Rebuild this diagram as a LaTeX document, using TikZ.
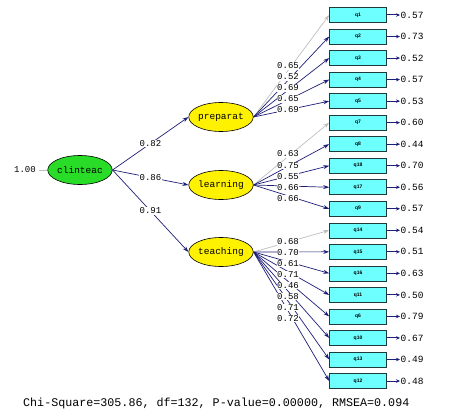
\documentclass[tikz,border=0pt]{standalone}
\usepackage{fontspec}
\setmonofont{Liberation Mono}
\setsansfont{Liberation Sans}
\usetikzlibrary{arrows.meta,shapes.geometric}
\definecolor{navyline}{RGB}{30,30,120}
\definecolor{grayline}{RGB}{190,190,190}
\definecolor{boxfill}{RGB}{110,255,255}
\definecolor{boxdraw}{RGB}{30,60,60}
\definecolor{latgreen}{RGB}{40,220,40}
\tikzset{
  obs/.style={draw=boxdraw, fill=boxfill, minimum width=57pt, minimum height=15pt, inner sep=0pt, line width=0.6pt, font=\sffamily\bfseries\fontsize{5}{5}\selectfont},
  lat/.style={ellipse, draw=black, fill=yellow, minimum width=60pt, minimum height=29pt, inner sep=0pt, line width=0.6pt, font=\ttfamily\fontsize{9.5}{10}\selectfont},
  load/.style={draw=navyline, line width=0.7pt, -{Stealth[length=6pt,width=4pt]}},
  fixed/.style={draw=grayline, line width=0.7pt, -{Stealth[length=6pt,width=4pt]}},
  err/.style={draw=navyline, line width=1pt, -{Stealth[length=4pt,width=3.5pt]}},
  coef/.style={fill=white, inner sep=0.5pt, font=\ttfamily\fontsize{9}{9}\selectfont},
  errlab/.style={anchor=west, inner sep=0.5pt, font=\ttfamily\fontsize{9.5}{10}\selectfont},
}
\begin{document}
\begin{tikzpicture}[x=1pt,y=-1pt]
\path[use as bounding box] (0,0) rectangle (474,420);
% observed boxes and error variances
\foreach \n/\e [count=\i from 0] in {1/0.57,2/0.73,3/0.52,4/0.57,5/0.53,7/0.60,8/0.44,18/0.70,17/0.56,9/0.57,14/0.54,15/0.51,16/0.63,11/0.50,6/0.79,10/0.67,13/0.49,12/0.48}{
  \node[obs] (q\n) at (358,{15+21.53*\i}) {q\n};
  \node[errlab] (e\n) at (400,{15+21.53*\i}) {\e};
  \draw[err] (q\n.east) -- (e\n.west);
}
% latent variables
\node[lat, fill=latgreen] (cl) at (80,170) {clinteac};
\node[lat] (prep) at (221,117) {preparat};
\node[lat] (learn) at (221,185) {learning};
\node[lat] (teach) at (221,252) {teaching};
% clinteac variance
\node[coef, fill=none] (v1) at (25,170) {1.00};
\draw[draw=grayline, line width=1pt] (v1.east) ++(2,0) -- (cl.west);
% structural paths
\draw[load] (cl.east) -- node[coef]{0.82} (prep.west);
\draw[load] (cl.east) -- node[coef]{0.86} (learn.west);
\draw[load] (cl.east) -- node[coef]{0.91} (teach.west);
% loadings
\draw[fixed] (prep.east) -- (q1.west);
\foreach \t in {2,3,4,5}{\draw[load] (prep.east) -- (q\t.west);}
\draw[fixed] (learn.east) -- (q7.west);
\foreach \t in {8,18,17,9}{\draw[load] (learn.east) -- (q\t.west);}
\draw[fixed] (teach.east) -- (q14.west);
\foreach \t in {15,16,11,6,10,13,12}{\draw[load] (teach.east) -- (q\t.west);}
% loading labels
\foreach \v/\y [count=\k] in {0.65/66,0.52/77,0.69/88,0.65/99,0.69/110,
  0.63/154,0.75/165.5,0.55/176.5,0.66/187.5,0.66/198.5,
  0.68/242,0.70/252.5,0.61/263.5,0.71/274.5,0.46/285.5,0.58/296.5,0.71/307.5,0.72/318.5}{
  \node[coef] (l\k) at (288,\y) {\v};
}
% fit statistics
\node[anchor=west, inner sep=0pt, font=\ttfamily\fontsize{11.7}{12}\selectfont] (fit) at (23,403) {Chi-Square=305.86, df=132, P-value=0.00000, RMSEA=0.094};
\end{tikzpicture}
\end{document}
